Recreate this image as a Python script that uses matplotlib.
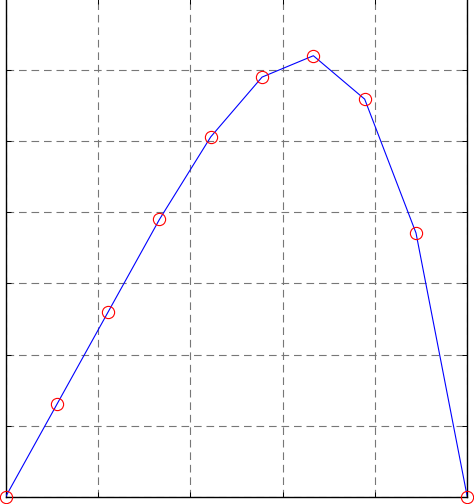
import numpy as np
import matplotlib
matplotlib.use("Agg")
import matplotlib.pyplot as plt

# sample positions and measured values
x = np.linspace(0, 1, 10)
y = [0, 1.30, 2.60, 3.90, 5.06, 5.90, 6.20, 5.59, 3.71, 0]

xticks = [0, 0.2, 0.4, 0.6, 0.8, 1.0]
yticks = [0, 1, 2, 3, 4, 5, 6, 7]

plt.rcParams['lines.scale_dashes'] = False

fig = plt.figure(figsize=(4.74, 5.04), dpi=100)
W, H = 474, 504
ax = fig.add_axes([5.5 / W, 7 / H, (467.3 - 5.5) / W, 498.2 / H])

ax.plot(x, y, color='#0000ff', lw=0.8, zorder=3)
ax.plot(x, y, 'o', ms=8.8, mfc='none', mec='#ff0000', mew=0.8, clip_on=False, zorder=4)

ax.set_xlim(0, 1)
ax.set_ylim(0, 7)
ax.set_xticks(xticks)
ax.set_yticks(yticks)
ax.set_xticklabels([])
ax.set_yticklabels([])
ax.tick_params(direction='in', length=3.5, width=0.7, top=True, right=True, color='black')
ax.grid(True, color='#777777', lw=0.8, linestyle=(0, (5.5, 3.5)))
for s in ax.spines.values():
    s.set_linewidth(1.0)
    s.set_color('black')

fig.savefig("out.png", dpi=100)
